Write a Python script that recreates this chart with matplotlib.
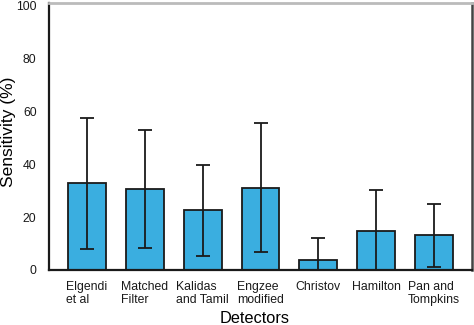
import matplotlib
matplotlib.use("Agg")
import matplotlib.pyplot as plt
import numpy as np

plt.rcParams['font.family'] = ['Liberation Sans', 'DejaVu Sans']

# datos
detectores = ['Elgendi\net al', 'Matched\nFilter', 'Kalidas\nand Tamil', 'Engzee\nmodified',
              'Christov', 'Hamilton', 'Pan and\nTompkins']
sensibilidad = [32.7, 30.7, 22.5, 31.1, 3.9, 14.9, 13.2]
error = [24.8, 22.3, 17.1, 24.4, 8.1, 15.2, 11.9]

fig = plt.figure(figsize=(4.74, 3.25), dpi=100)
ax = fig.add_axes([49/474, 1 - 270/325, (472-49)/474, (270-2.5)/325])

x = np.arange(len(detectores))
ax.bar(x, sensibilidad, width=0.655, color='#3aaee0', edgecolor='#1a1a1a', linewidth=1.3, zorder=2)
ax.errorbar(x, sensibilidad, yerr=error, fmt='none', ecolor='#1a1a1a', elinewidth=1.3,
            capsize=5, capthick=1.3, zorder=3, clip_on=True)

ax.set_xlim(-0.655, 6.655)
ax.set_ylim(0, 101)
ax.set_yticks([0, 20, 40, 60, 80, 100])
ax.set_xticks(x)
ax.set_xticklabels(detectores, fontsize=8.8, multialignment='left', linespacing=1.05)
ax.tick_params(axis='both', length=0, labelsize=8.8, colors='#1a1a1a')
ax.tick_params(axis='x', pad=8)
ax.tick_params(axis='y', pad=9)

for s in ['left', 'bottom']:
    ax.spines[s].set_linewidth(1.6)
    ax.spines[s].set_color('#1a1a1a')
ax.spines['right'].set_linewidth(1.8)
ax.spines['right'].set_color('#444444')
ax.spines['top'].set_linewidth(2.0)
ax.spines['top'].set_color('#bbbbbb')

ax.set_ylabel('Sensitivity (%)', fontsize=12.5)
ax.yaxis.set_label_coords(-0.078, 0.515)
ax.set_xlabel('Detectors', fontsize=11.8, va='top')
ax.xaxis.set_label_coords(0.487, -0.155)

fig.savefig('out.png', dpi=100)
